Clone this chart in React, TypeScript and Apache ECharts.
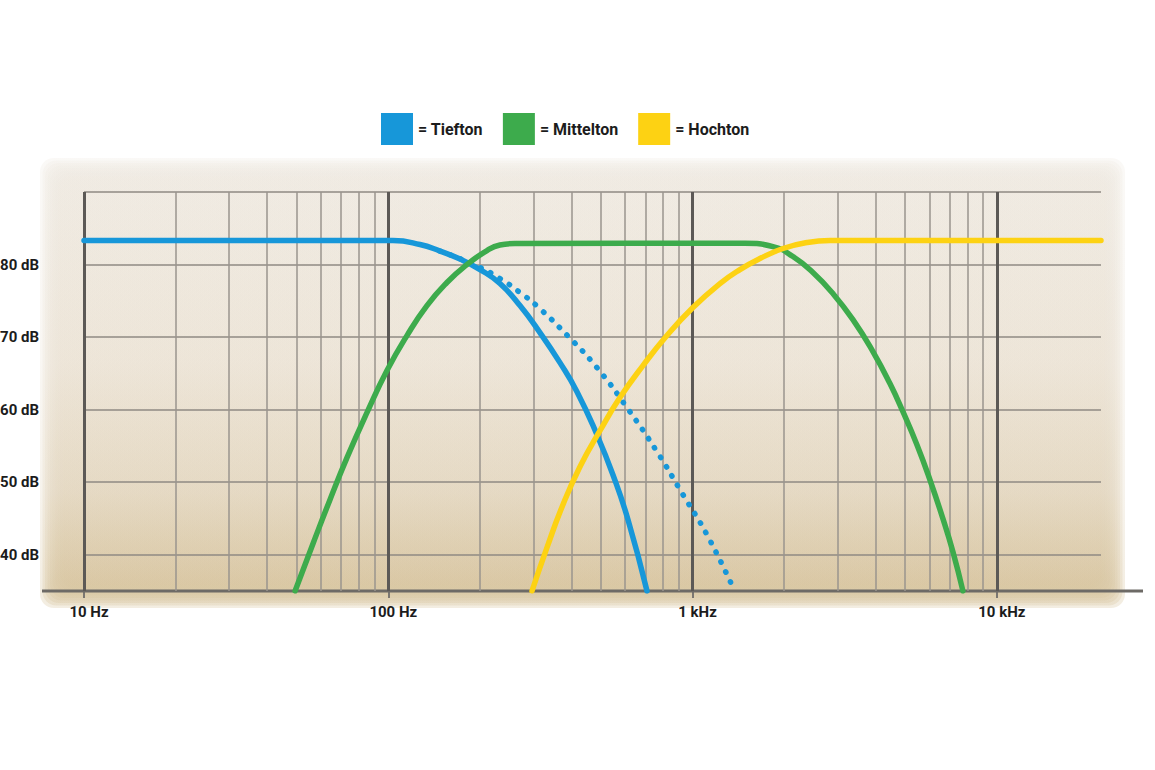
import React, { useEffect, useRef } from 'react';
import * as echarts from 'echarts';

// ---- Data (frequency in Hz, level in dB) ----
const tieftonFreq = [10, 50, 103.6, 127.1, 147.9, 172.1, 200.2, 232.8, 270.9, 315.1, 366.6, 417, 485.1, 547.4, 613.6, 708.5];
const tieftonDb = [83.3, 83.3, 83.3, 82.76, 81.86, 80.76, 79.31, 77.38, 74.34, 70.62, 66.48, 62.48, 56.55, 51.03, 44.83, 35];

const tieftonAltFreq = [147.9, 195.7, 232.8, 270.9, 308.1, 389.5, 485.1, 608.9, 764, 930, 1115.3, 1357.9];
const tieftonAltDb = [81.86, 79.79, 78.07, 76.14, 74.28, 70.14, 65.79, 60.28, 54.21, 48.28, 42.76, 35.5];

const mitteltonFreq = [
  49.4, 56.56, 64.34, 73.18, 85.11, 99.02, 115.2, 134.0, 155.9, 181.4, 211.1, 232.8, 260.9,
  1486.6, 1837.6, 2137.6, 2487.2, 2893.8, 3366.4, 3916, 4454.4, 4914.2, 5463.3, 6027, 6650, 7174, 7738,
];
const mitteltonDb = [
  35, 41.52, 47.59, 53.38, 59.59, 65.38, 70.21, 74.34, 77.52, 80.0, 81.93, 82.69, 82.9,
  82.93, 82.48, 81.1, 78.9, 76.0, 72.41, 68.0, 63.59, 59.72, 55.17, 50.34, 44.97, 40.41, 35,
];

const hochtonFreq = [296.7, 332.3, 375, 426.6, 496.3, 577.3, 687.1, 823.8, 1003, 1230.6, 1431.9, 1665.5, 1982.4, 2376.8, 2829.1, 22000];
const hochtonDb = [35, 40.97, 46.9, 52.14, 57.1, 61.66, 66.07, 70.21, 74.07, 77.38, 79.31, 80.83, 82.21, 83.03, 83.3, 83.3];

const xTickValues = [10, 100, 1000, 10000];
const xTickLabels = ['10 Hz', '100 Hz', '1 kHz', '10 kHz'];
const yLabelValues = [40, 50, 60, 70, 80];
const majorGridFreqs = [10, 100, 1000, 10000];
const minorGridFreqs = [
  20, 30, 40, 50, 60, 70, 80, 90,
  200, 300, 400, 500, 600, 700, 800, 900,
  2000, 3000, 4000, 5000, 6000, 7000, 8000, 9000,
];
const seriesNames = ['Tiefton', 'Mittelton', 'Hochton'];

const BLUE = '#1797d9';
const GREEN = '#3dab4c';
const YELLOW = '#fdd213';
const FONT = 'Roboto, "Liberation Sans", sans-serif';

const pairs = (f: number[], d: number[]) => f.map((v, i) => [v, d[i]]);

export default function App() {
  const ref = useRef<HTMLDivElement>(null);

  useEffect(() => {
    const chart = echarts.init(ref.current!, null, { renderer: 'svg' });

    const bgGradient = new echarts.graphic.LinearGradient(0, 170, 0, 600, [
      { offset: 0, color: '#efeae2' },
      { offset: 0.45, color: '#ece4d7' },
      { offset: 0.75, color: '#e4d8c2' },
      { offset: 1, color: '#d7c49d' },
    ], true);

    const bgLayers: any[] = [];
    const layers = 10;
    for (let i = 0; i < layers; i++) {
      const inset = i * 2.5;
      bgLayers.push({
        type: 'rect',
        z: -10,
        silent: true,
        shape: { x: 40 + inset, y: 158 + inset, width: 1085 - 2 * inset, height: 450 - 2 * inset, r: 14 },
        style: { fill: bgGradient, opacity: 0.3 },
      });
    }

    const fmtX = (v: number) => {
      const idx = xTickValues.findIndex((t) => Math.abs(Math.log10(v) - Math.log10(t)) < 1e-6);
      return idx >= 0 ? xTickLabels[idx] : '';
    };

    const curve = (name: string, data: number[][], color: string, z: number, dotted = false) => ({
      name,
      type: 'line',
      data,
      symbol: 'none',
      smooth: 0.5,
      z,
      itemStyle: { color },
      lineStyle: dotted
        ? { color, width: 5.5, cap: 'round', type: [0.5, 10.5] }
        : { color, width: 5.5, cap: 'round', join: 'round' },
    });

    chart.setOption({
      animation: false,
      backgroundColor: '#ffffff',
      grid: { left: 84, right: 54, top: 192, bottom: 179, containLabel: false, outerBoundsMode: 'none' },
      legend: {
        data: seriesNames,
        left: 381,
        top: 113,
        padding: 0,
        itemWidth: 32,
        itemHeight: 32,
        itemGap: 20,
        icon: 'rect',
        selectedMode: false,
        formatter: (n: string) => '= ' + n,
        itemStyle: { borderWidth: 0 },
        textStyle: { fontFamily: FONT, fontSize: 16, fontWeight: 'bold', color: '#1c1c1c' },
      },
      xAxis: {
        type: 'log',
        logBase: 10,
        min: 10,
        max: 22000,
        axisLine: { show: false },
        splitLine: { show: false },
        axisTick: {
          show: true,
          customValues: xTickValues,
          length: 7,
          lineStyle: { color: '#7a7671', width: 2 },
        },
        axisLabel: {
          customValues: xTickValues,
          formatter: fmtX,
          margin: 13,
          padding: [0, 0, 0, 10],
          fontFamily: FONT,
          fontSize: 15,
          fontWeight: 'bold',
          color: '#1c1c1c',
        },
      },
      yAxis: {
        type: 'value',
        min: 35,
        max: 90,
        axisLine: { show: false },
        axisTick: { show: false },
        splitLine: { show: true, lineStyle: { color: '#8f8a83', width: 1.5 } },
        axisLabel: {
          customValues: yLabelValues,
          formatter: (v: number) => v + ' dB',
          margin: 45,
          fontFamily: FONT,
          fontSize: 15,
          fontWeight: 'bold',
          color: '#1c1c1c',
        },
      },
      graphic: {
        elements: [
          ...bgLayers,
          {
            type: 'line',
            z: 1,
            silent: true,
            shape: { x1: 42, y1: 591, x2: 1143, y2: 591 },
            style: { stroke: '#6d6a66', lineWidth: 3 },
          },
        ],
      },
      series: [
        {
          name: 'grid-lines',
          type: 'line',
          data: [],
          silent: true,
          z: 1,
          markLine: {
            silent: true,
            symbol: ['none', 'none'],
            label: { show: false },
            emphasis: { disabled: true },
            lineStyle: { type: 'solid' },
            data: [
              ...minorGridFreqs.map((v) => ({ xAxis: v, lineStyle: { color: '#9a958e', width: 1.5, type: 'solid' } })),
              ...majorGridFreqs.map((v) => ({ xAxis: v, lineStyle: { color: '#5c5956', width: 3, type: 'solid' } })),
            ],
          },
        },
        curve('Tiefton', pairs(tieftonFreq, tieftonDb), BLUE, 5),
        curve('Tiefton (alternativ)', pairs(tieftonAltFreq, tieftonAltDb), BLUE, 5, true),
        curve('Mittelton', pairs(mitteltonFreq, mitteltonDb), GREEN, 6),
        curve('Hochton', pairs(hochtonFreq, hochtonDb), YELLOW, 7),
      ],
    });

    return () => chart.dispose();
  }, []);

  return (
    <div
      ref={ref}
      style={{ position: 'absolute', left: 0, top: 0, width: 1155, height: 770, background: '#fff' }}
    />
  );
}
